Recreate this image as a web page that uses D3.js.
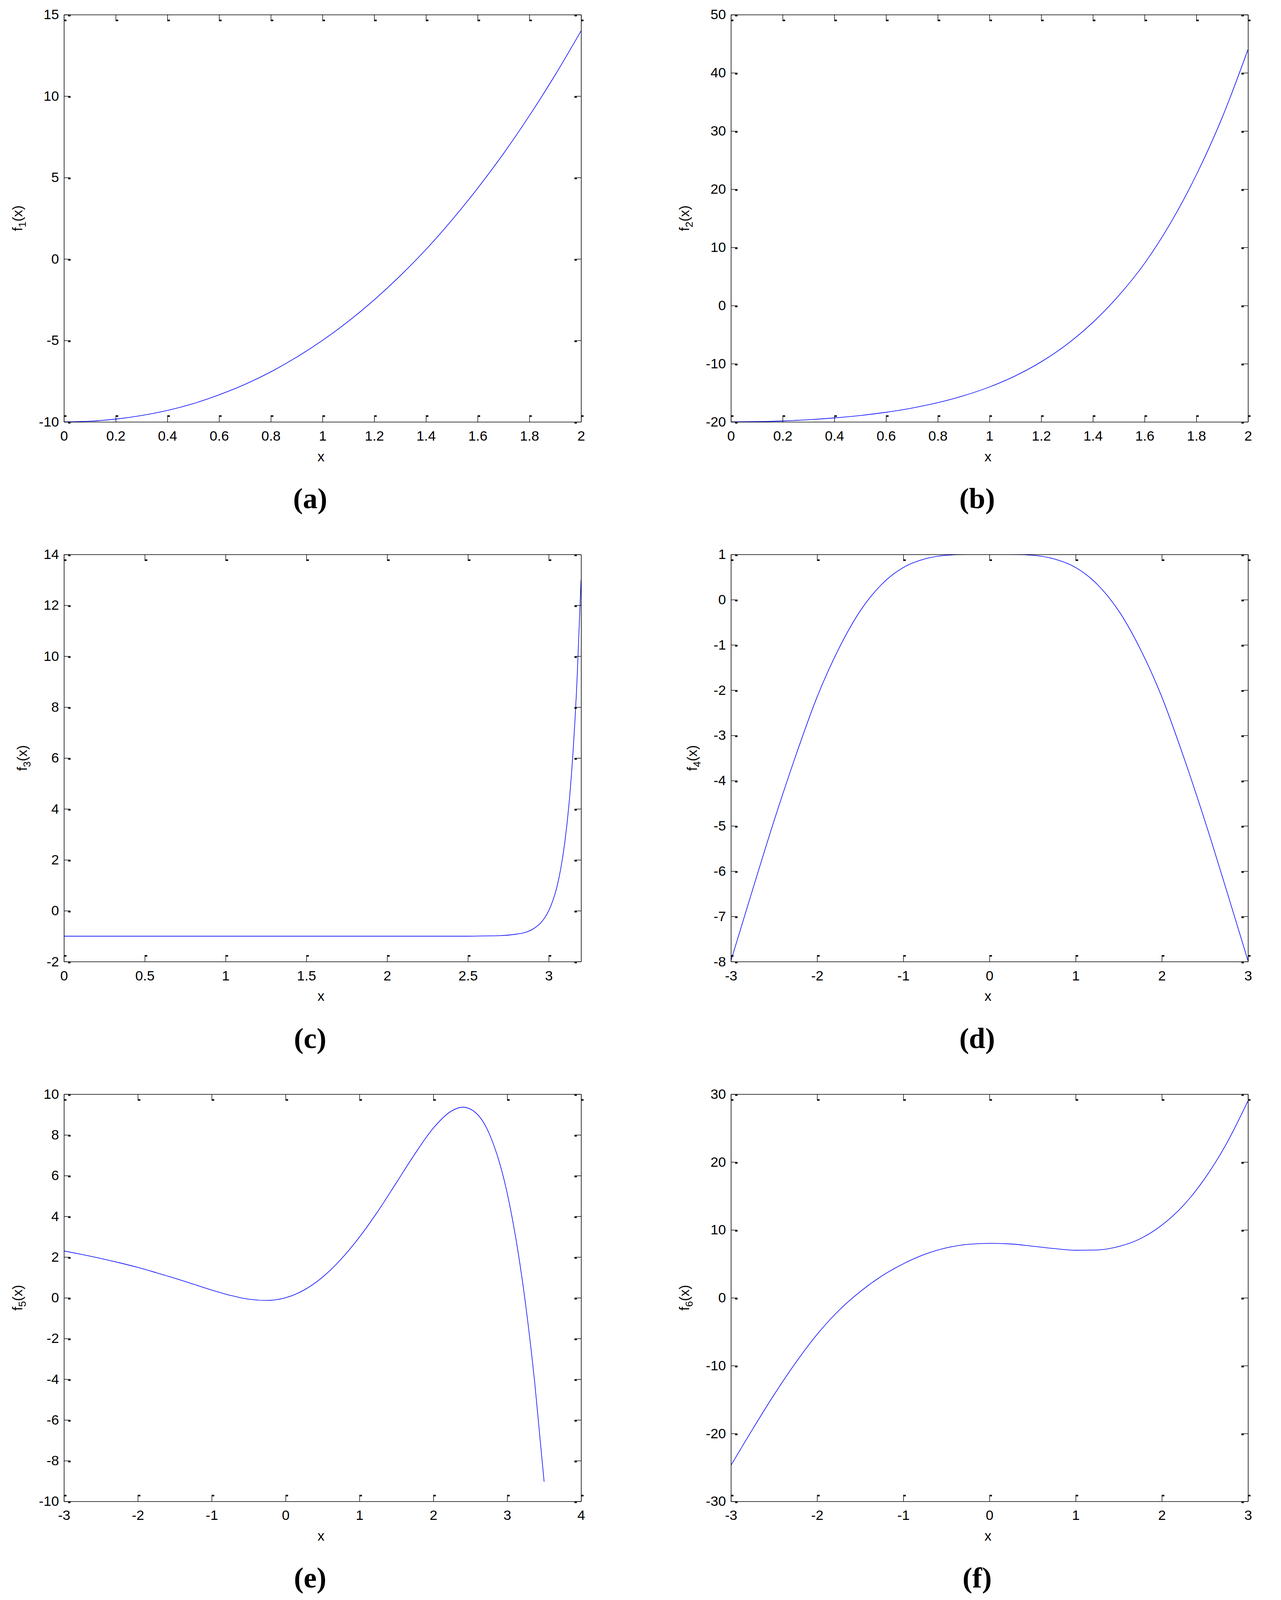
<!DOCTYPE html>
<html lang="en">
<head>
  <meta charset="utf-8">
  <title>Test functions f1 - f6</title>
  <script src="https://d3js.org/d3.v7.min.js"></script>
  <style>
    html, body { margin: 0; padding: 0; background: #fff; overflow: hidden; width: 100%; height: 100%; }
    svg { display: block; }
    text { font-family: "Liberation Sans", Arial, Helvetica, sans-serif; fill: #000; }
    .panelLabel { font-family: "Liberation Serif", "Times New Roman", serif; font-weight: bold; }
  </style>
</head>
<body>
<svg id="fig"></svg>
<script>
// values
const f1X = [0, 0.1, 0.2, 0.3, 0.4, 0.5, 0.6, 0.7, 0.8, 0.9, 1, 1.1, 1.2, 1.3, 1.4, 1.5, 1.6, 1.7, 1.8, 1.9, 2];
const f1Y = [-10, -9.96, -9.83, -9.61, -9.3, -8.88, -8.34, -7.7, -6.93, -6.03, -5, -3.83, -2.51, -1.04, 0.58, 2.38, 4.34, 6.47, 8.79, 11.3, 14];

const f2X = [0, 0.1, 0.2, 0.3, 0.4, 0.5, 0.6, 0.7, 0.8, 0.9, 1, 1.1, 1.2, 1.3, 1.4, 1.5, 1.6, 1.7, 1.8, 1.9, 2];
const f2Y = [-20, -19.96, -19.84, -19.63, -19.32, -18.91, -18.35, -17.63, -16.7, -15.51, -14, -12.09, -9.68, -6.67, -2.9, 1.7, 7.25, 14.15, 22.45, 32.3, 44];

const f3X = [0, 0.5, 1, 1.5, 2, 2.5, 2.6, 2.7, 2.8, 2.85, 2.9, 2.925, 2.95, 2.975, 3, 3.025, 3.05, 3.075, 3.1, 3.125, 3.15, 3.175, 3.2];
const f3Y = [-1, -1, -1, -1, -1, -1, -0.99, -0.98, -0.92, -0.86, -0.73, -0.62, -0.48, -0.28, 0, 0.39, 0.92, 1.67, 2.71, 4.16, 6.19, 9.03, 13];

const f4X = [-3, -2.75, -2.5, -2.25, -2, -1.75, -1.5, -1.25, -1, -0.75, -0.5, -0.25, 0, 0.25, 0.5, 0.75, 1, 1.25, 1.5, 1.75, 2, 2.25, 2.5, 2.75, 3];
const f4Y = [-7.98, -6.42, -4.89, -3.46, -2.15, -1.09, -0.25, 0.34, 0.71, 0.9, 0.98, 1, 1, 1, 0.98, 0.9, 0.71, 0.34, -0.25, -1.09, -2.15, -3.46, -4.89, -6.42, -7.98];

const f5X = [-3, -2.75, -2.5, -2.25, -2, -1.75, -1.5, -1.25, -1, -0.75, -0.5, -0.25, 0, 0.25, 0.5, 0.75, 1, 1.25, 1.5, 1.75, 2, 2.25, 2.4, 2.5, 2.75, 3, 3.125, 3.25, 3.375, 3.5];
const f5Y = [2.3, 2.12, 1.93, 1.72, 1.49, 1.23, 0.96, 0.67, 0.38, 0.12, -0.07, -0.13, 0, 0.38, 1.01, 1.89, 2.98, 4.25, 5.65, 7.06, 8.33, 9.18, 9.36, 9.27, 8.12, 5.14, 2.75, -0.34, -4.24, -9.03];

const f6X = [-3, -2.75, -2.5, -2.25, -2, -1.75, -1.5, -1.25, -1, -0.75, -0.5, -0.25, 0, 0.25, 0.5, 0.75, 1, 1.25, 1.5, 1.75, 2, 2.25, 2.5, 2.75, 3];
const f6Y = [-24.7, -19.4, -14.3, -9.6, -5.4, -1.9, 0.9, 3.2, 5, 6.4, 7.35, 7.87, 8.02, 7.92, 7.6, 7.25, 7, 7.04, 7.55, 8.7, 10.7, 13.6, 17.6, 22.7, 29];

// tick labels
const ticks02 = [0, 0.2, 0.4, 0.6, 0.8, 1, 1.2, 1.4, 1.6, 1.8, 2];
const ticksC = [0, 0.5, 1, 1.5, 2, 2.5, 3];
const ticksM3to3 = [-3, -2, -1, 0, 1, 2, 3];
const ticksM3to4 = [-3, -2, -1, 0, 1, 2, 3, 4];
const yTicksA = [-10, -5, 0, 5, 10, 15];
const yTicksB = [-20, -10, 0, 10, 20, 30, 40, 50];
const yTicksC = [-2, 0, 2, 4, 6, 8, 10, 12, 14];
const yTicksD = [-8, -7, -6, -5, -4, -3, -2, -1, 0, 1];
const yTicksE = [-10, -8, -6, -4, -2, 0, 2, 4, 6, 8, 10];
const yTicksF = [-30, -20, -10, 0, 10, 20, 30];

const panels = [
  { id: "a", col: 0, row: 0, sub: "1", xs: f1X, ys: f1Y, xDom: [0, 2], yDom: [-10, 15], xTicks: ticks02, yTicks: yTicksA },
  { id: "b", col: 1, row: 0, sub: "2", xs: f2X, ys: f2Y, xDom: [0, 2], yDom: [-20, 50], xTicks: ticks02, yTicks: yTicksB },
  { id: "c", col: 0, row: 1, sub: "3", xs: f3X, ys: f3Y, xDom: [0, 3.2], yDom: [-2, 14], xTicks: ticksC, yTicks: yTicksC },
  { id: "d", col: 1, row: 1, sub: "4", xs: f4X, ys: f4Y, xDom: [-3, 3], yDom: [-8, 1], xTicks: ticksM3to3, yTicks: yTicksD },
  { id: "e", col: 0, row: 2, sub: "5", xs: f5X, ys: f5Y, xDom: [-3, 4], yDom: [-10, 10], xTicks: ticksM3to4, yTicks: yTicksE },
  { id: "f", col: 1, row: 2, sub: "6", xs: f6X, ys: f6Y, xDom: [-3, 3], yDom: [-30, 30], xTicks: ticksM3to3, yTicks: yTicksF }
];

const W = 3279, H = 4153;
const colLeft = [166, 1897];
const rowTop = [38, 1439, 2840];
const axW = 1342, axH = 1057;
const tickLen = 17;
const fs = 36;

// fit the whole figure into whatever viewport the page gets
const svg = d3.select("#fig")
  .attr("viewBox", `0 0 ${W} ${H}`)
  .attr("preserveAspectRatio", "xMinYMin meet")
  .attr("width", window.innerWidth || W)
  .attr("height", window.innerHeight || H);
svg.append("rect").attr("width", W).attr("height", H).attr("fill", "#fff");

const fmt = d => String(d);

function styleAxis(sel) {
  sel.select(".domain").attr("stroke", "#000").attr("stroke-width", 1.6);
  sel.selectAll(".tick line").attr("stroke", "#000").attr("stroke-width", 1.4);
  sel.selectAll(".tick text").attr("font-size", fs).attr("fill", "#000")
    .attr("font-family", "'Liberation Sans', Arial, sans-serif");
}

// small square at the inner end of each tick, like the original rendering
function addDots(sel, side) {
  sel.selectAll(".tick").append("rect")
    .attr("fill", "#000")
    .attr("width", 6).attr("height", 4)
    .attr("x", side === "left" ? tickLen - 6 : side === "right" ? -tickLen : 0)
    .attr("y", side === "bottom" ? -tickLen : side === "top" ? tickLen - 4 : 0);
}

function drawPanel(p) {
  const g = svg.append("g").attr("transform", `translate(${colLeft[p.col]}, ${rowTop[p.row]})`);
  const x = d3.scaleLinear().domain(p.xDom).range([0, axW]);
  const y = d3.scaleLinear().domain(p.yDom).range([axH, 0]);

  g.append("clipPath").attr("id", "clip" + p.id)
    .append("rect").attr("x", 0).attr("y", 0).attr("width", axW).attr("height", axH);

  const pts = p.xs.map((v, i) => [v, p.ys[i]]);
  const line = d3.line().x(d => x(d[0])).y(d => y(d[1])).curve(d3.curveMonotoneX);

  g.append("path")
    .datum(pts)
    .attr("d", line)
    .attr("fill", "none")
    .attr("stroke", "#0000ff")
    .attr("stroke-width", 1.6)
    .attr("clip-path", `url(#clip${p.id})`);

  const xb = g.append("g").attr("transform", `translate(0, ${axH})`)
    .call(d3.axisBottom(x).tickValues(p.xTicks).tickFormat(fmt).tickSize(-tickLen).tickSizeOuter(0).tickPadding(23));
  styleAxis(xb); addDots(xb, "bottom");

  const xt = g.append("g")
    .call(d3.axisTop(x).tickValues(p.xTicks).tickFormat("").tickSize(-tickLen).tickSizeOuter(0));
  styleAxis(xt); addDots(xt, "top");

  const yl = g.append("g")
    .call(d3.axisLeft(y).tickValues(p.yTicks).tickFormat(fmt).tickSize(-tickLen).tickSizeOuter(0).tickPadding(13));
  styleAxis(yl); addDots(yl, "left");

  const yr = g.append("g").attr("transform", `translate(${axW}, 0)`)
    .call(d3.axisRight(y).tickValues(p.yTicks).tickFormat("").tickSize(-tickLen).tickSizeOuter(0));
  styleAxis(yr); addDots(yr, "right");

  // y label sits left of the widest tick label
  let maxW = 0;
  yl.selectAll(".tick text").each(function () { maxW = Math.max(maxW, this.getComputedTextLength()); });
  const lx = -13 - maxW - 43;

  const ylab = g.append("text")
    .attr("transform", `translate(${lx}, ${axH / 2}) rotate(-90)`)
    .attr("text-anchor", "middle")
    .attr("font-size", fs);
  ylab.append("tspan").text("f");
  ylab.append("tspan").attr("font-size", 27).attr("dy", 9).text(p.sub);
  ylab.append("tspan").attr("dy", -9).text("(x)");

  g.append("text")
    .attr("x", axW / 2 - 4)
    .attr("y", axH + 102)
    .attr("text-anchor", "middle")
    .attr("font-size", fs)
    .text("x");

  g.append("text")
    .attr("class", "panelLabel")
    .attr("x", axW / 2 - 32)
    .attr("y", axH + 224)
    .attr("text-anchor", "middle")
    .attr("font-size", 76)
    .text(`(${p.id})`);
}

panels.forEach(drawPanel);
</script>
</body>
</html>
